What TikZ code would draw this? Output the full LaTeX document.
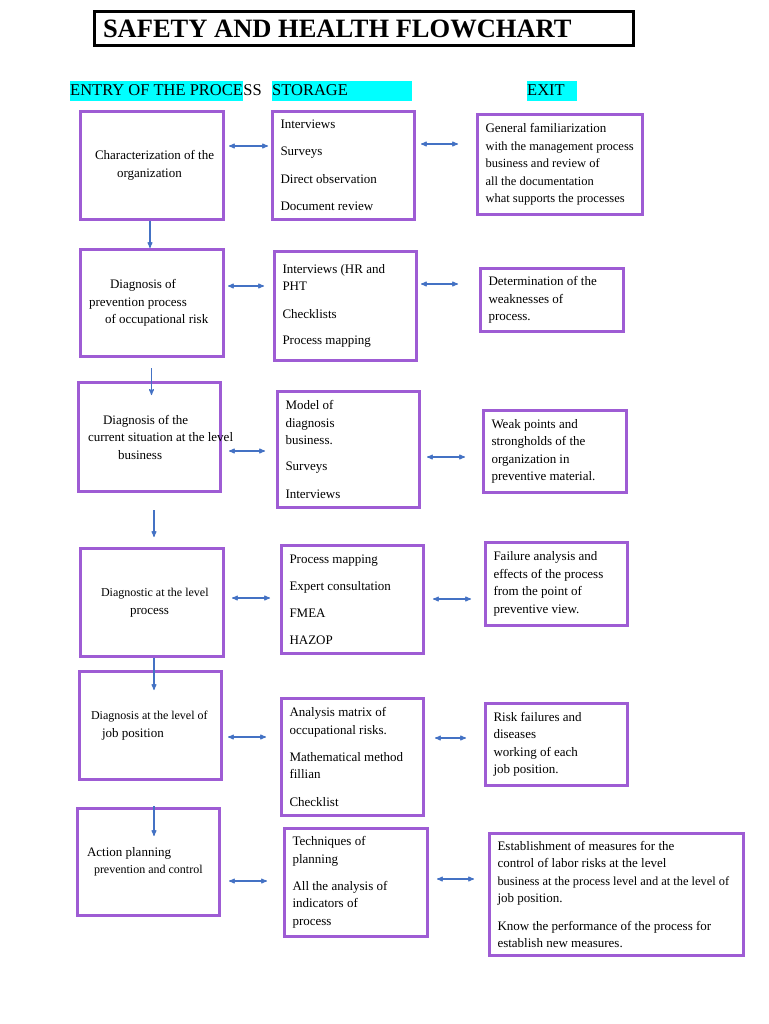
\documentclass[tikz,border=0pt]{standalone}
\usepackage{fontspec}
\setmainfont{Liberation Serif}
\usetikzlibrary{positioning, arrows}
\definecolor{boxpurple}{RGB}{158,92,212}
\definecolor{arrowblue}{RGB}{68,114,196}
\definecolor{hilite}{RGB}{0,255,255}

\begin{document}
\begin{tikzpicture}[x=1pt,y=-1pt,>=stealth',
  titlebox/.style={draw=black, line width=3pt, rectangle, minimum height=34pt, inner xsep=8.5pt, text width=522pt, align=flush left, font=\fontsize{26.5}{30}\selectfont\bfseries},
  head/.style={inner sep=0pt, text height=15pt, text depth=5pt, anchor=base west, font=\fontsize{16.5}{20}\selectfont},
  hilitebox/.style={head, fill=hilite},
  entbox/.style={draw=boxpurple, line width=3pt, rectangle, inner sep=0pt, align=flush left, font=\fontsize{13}{17.5}\selectfont},
  listbox/.style={draw=boxpurple, line width=3pt, rectangle, inner xsep=8pt, inner ysep=0pt, align=flush left, font=\fontsize{13}{17.5}\selectfont},
  flow/.style={->, arrowblue, line width=1.1pt},
  link/.style={<->, arrowblue, line width=1.1pt},
  ]
  \useasboundingbox (0,0) rectangle (768,1024);

  \node[titlebox] (title) at (364,28.5) {SAFETY AND HEALTH FLOWCHART};

  \node[hilitebox] (entry) at (70,96) {ENTRY OF THE PROCE};
  \node[head] (entrytail) at (entry.base east) {SS};
  \node[hilitebox, text width=140pt, align=flush left] (storage) at (272,96) {STORAGE};
  \node[hilitebox, text width=50pt, align=flush left] (exit) at (527,96) {EXIT};

  \node[entbox, text width=143pt, minimum height=108pt] (ent1) at (152,165.5)
    {\hspace*{14.5pt}Characterization of the\\\hspace*{36.5pt}organization};
  \node[entbox, text width=143pt, minimum height=107pt] (ent2) at (152,303)
    {\hspace*{29.5pt}Diagnosis of\\\hspace*{8.5pt}prevention process\\\hspace*{24.5pt}of occupational risk};
  \node[entbox, text width=142pt, minimum height=109pt] (ent3) at (149.5,437)
    {\hspace*{24.5pt}Diagnosis of the\\\hspace*{9.5pt}\makebox[0pt][l]{current situation at the level}\\\hspace*{39.5pt}business};
  \node[entbox, text width=143pt, minimum height=108pt] (ent4) at (152,602.5)
    {\hspace*{20.5pt}{\fontsize{12}{17.5}\selectfont Diagnostic at the level}\\\hspace*{49.5pt}process};
  \node[entbox, text width=142pt, minimum height=108pt] (ent5) at (150.5,725.5)
    {\hspace*{11.5pt}{\fontsize{12}{17.5}\selectfont Diagnosis at the level of}\\\hspace*{22.5pt}job position};
  \node[entbox, text width=142pt, minimum height=107pt] (ent6) at (148.5,862)
    {\hspace*{9.5pt}Action planning\\\hspace*{16.5pt}{\fontsize{12}{17.5}\selectfont prevention and control}};

  \node[listbox, text width=126pt, minimum height=108pt] (sto1) at (343.5,165.5)
    {Interviews\\[10pt]Surveys\\[10pt]Direct observation\\[10pt]Document review};
  \node[listbox, text width=126pt, minimum height=109pt] (sto2) at (345.5,306)
    {Interviews (HR and\\PHT\\[10pt]Checklists\\[9pt]Process mapping};
  \node[listbox, text width=126pt, minimum height=116pt] (sto3) at (348.5,449.5)
    {Model of\\diagnosis\\business.\\[8.5pt]Surveys\\[10pt]Interviews};
  \node[listbox, text width=126pt, minimum height=108pt] (sto4) at (352.5,599.5)
    {Process mapping\\[9.5pt]Expert consultation\\[9.5pt]FMEA\\[9.5pt]HAZOP};
  \node[listbox, text width=126pt, minimum height=117pt] (sto5) at (352.5,757)
    {Analysis matrix of\\occupational risks.\\[9.5pt]Mathematical method\\fillian\\[10pt]Checklist};
  \node[listbox, text width=127pt, minimum height=108pt] (sto6) at (356,882.5)
    {Techniques of\\planning\\[9.5pt]All the analysis of\\indicators of\\process};

  \node[listbox, text width=149pt, minimum height=100pt] (ext1) at (560,164.5)
    {General familiarization\\{\fontsize{12.5}{17.5}\selectfont with the management process}\\{\fontsize{12.5}{17.5}\selectfont business and review of}\\{\fontsize{12.5}{17.5}\selectfont all the documentation}\\{\fontsize{12.5}{17.5}\selectfont what supports the processes}};
  \node[listbox, text width=127pt, minimum height=63pt] (ext2) at (552,300)
    {Determination of the\\weaknesses of\\process.};
  \node[listbox, text width=127pt, minimum height=82pt] (ext3) at (555,451.5)
    {Weak points and\\strongholds of the\\organization in\\preventive material.};
  \node[listbox, text width=126pt, minimum height=83pt] (ext4) at (556.5,584)
    {Failure analysis and\\effects of the process\\from the point of\\preventive view.};
  \node[listbox, text width=126pt, minimum height=82pt] (ext5) at (556.5,744.5)
    {Risk failures and\\diseases\\working of each\\job position.};
  \node[listbox, text width=238pt, minimum height=122pt] (ext6) at (616.5,894.5)
    {Establishment of measures for the\\control of labor risks at the level\\{\fontsize{12.4}{17.5}\selectfont business at the process level and at the level of}\\job position.\\[10pt]Know the performance of the process for\\establish new measures.};

  \draw[flow] ([xshift=-2pt]ent1.south) -- ([xshift=-2pt]ent2.north);
  \draw[flow, shorten <=10pt] ([xshift=-0.5pt]ent2.south) -- ([xshift=2pt,yshift=-14pt]ent3.north);
  \draw[flow, shorten <=17pt] ([xshift=4.5pt]ent3.south) -- ([xshift=2pt,yshift=10pt]ent4.north);
  \draw[flow] ([xshift=2pt]ent4.south) -- ([xshift=3.5pt,yshift=-20pt]ent5.north);
  \draw[flow, shorten <=25pt] ([xshift=3.5pt]ent5.south) -- ([xshift=5.5pt,yshift=-29pt]ent6.north);

  \path[link] ([xshift=4pt,yshift=19.5pt]ent1.east) edge ([xshift=-3pt,yshift=19.5pt]sto1.west);
  \path[link] ([xshift=5pt,yshift=21.5pt]sto1.east) edge ([xshift=-18pt,yshift=20.5pt]ext1.west);
  \path[link] ([xshift=3pt,yshift=17pt]ent2.east) edge ([xshift=-9pt,yshift=20pt]sto2.west);
  \path[link] ([xshift=3pt,yshift=22pt]sto2.east) edge ([xshift=-21pt,yshift=16pt]ext2.west);
  \path[link] ([xshift=7pt,yshift=-14pt]ent3.east) edge ([xshift=-11pt,yshift=-1.5pt]sto3.west);
  \path[link] ([xshift=6pt,yshift=-7.5pt]sto3.east) edge ([xshift=-17pt,yshift=-5.5pt]ext3.west);
  \path[link] ([xshift=7pt,yshift=4.5pt]ent4.east) edge ([xshift=-10pt,yshift=1.5pt]sto4.west);
  \path[link] ([xshift=8pt,yshift=0.5pt]sto4.east) edge ([xshift=-13pt,yshift=-15pt]ext4.west);
  \path[link] ([xshift=5pt,yshift=-11.5pt]ent5.east) edge ([xshift=-14pt,yshift=20pt]sto5.west);
  \path[link] ([xshift=10pt,yshift=19pt]sto5.east) edge ([xshift=-18pt,yshift=6.5pt]ext5.west);
  \path[link] ([xshift=8pt,yshift=-19pt]ent6.east) edge ([xshift=-16pt,yshift=1.5pt]sto6.west);
  \path[link] ([xshift=8pt,yshift=3.5pt]sto6.east) edge ([xshift=-14pt,yshift=15.5pt]ext6.west);
\end{tikzpicture}
\end{document}
